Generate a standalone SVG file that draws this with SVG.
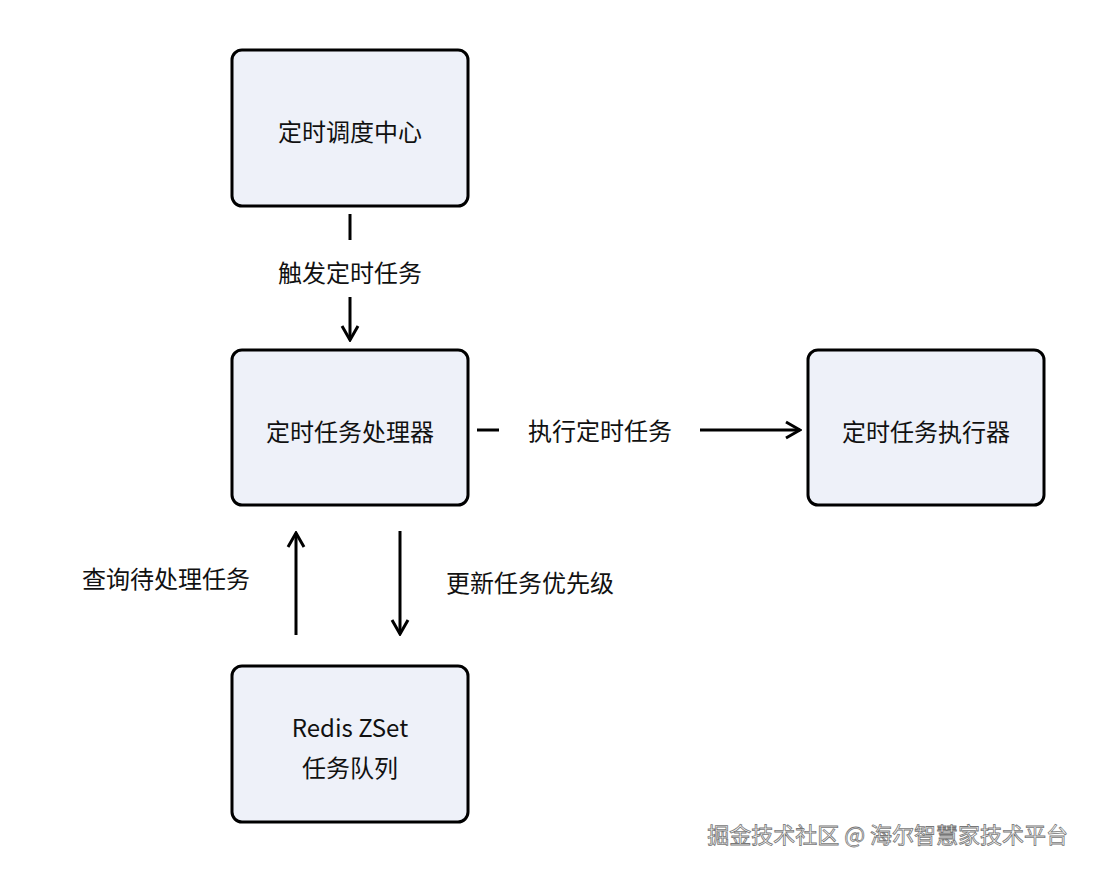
<svg xmlns="http://www.w3.org/2000/svg" width="1093" height="872" viewBox="0 0 1093 872">
<defs>
<style>
.box{fill:#eef1f9;stroke:#000;stroke-width:3}
.t{font-family:"Noto Sans CJK SC","Noto Sans",sans-serif;font-size:24px;fill:#111;text-anchor:middle;dominant-baseline:central}
.c{stroke:#000;stroke-width:3;fill:none}
</style>
<marker id="ar" viewBox="0 0 20 20" refX="18" refY="10" markerWidth="20" markerHeight="20" markerUnits="userSpaceOnUse" orient="auto">
<polyline points="4,2 18,10 4,18" fill="none" stroke="#000" stroke-width="3"/>
</marker>
</defs>
<rect width="1093" height="872" fill="#fff"/>
<g id="n1"><rect class="box" x="232" y="50" width="236" height="156" rx="10"/><text class="t" x="350" y="130">定时调度中心</text></g>
<g id="n2"><rect class="box" x="232" y="350" width="236" height="155" rx="10"/><text class="t" x="350" y="430">定时任务处理器</text></g>
<g id="n3"><rect class="box" x="808" y="350" width="236" height="155" rx="10"/><text class="t" x="926" y="430">定时任务执行器</text></g>
<g id="n4"><rect class="box" x="232" y="666" width="236" height="156" rx="10"/><text class="t" x="350" y="726">Redis ZSet</text><text class="t" x="350" y="766">任务队列</text></g>
<g id="connectors">
<line class="c" x1="350" y1="214" x2="350" y2="240"/>
<line class="c" x1="350" y1="297" x2="350" y2="340" marker-end="url(#ar)"/>
<text class="t" x="350" y="271">触发定时任务</text>
<line class="c" x1="477" y1="430" x2="499" y2="430"/>
<line class="c" x1="700" y1="430" x2="800" y2="430" marker-end="url(#ar)"/>
<text class="t" x="600" y="429">执行定时任务</text>
<line class="c" x1="296" y1="635" x2="296" y2="533" marker-end="url(#ar)"/>
<text class="t" x="166" y="577">查询待处理任务</text>
<line class="c" x1="400" y1="531" x2="400" y2="634" marker-end="url(#ar)"/>
<text class="t" x="530" y="581">更新任务优先级</text>
</g>
<text x="1068" y="833" font-family="Noto Sans CJK SC,sans-serif" font-size="22" fill="#fff" stroke="#777" stroke-width="0.8" text-anchor="end" dominant-baseline="central">掘金技术社区 @ 海尔智慧家技术平台</text>
</svg>
